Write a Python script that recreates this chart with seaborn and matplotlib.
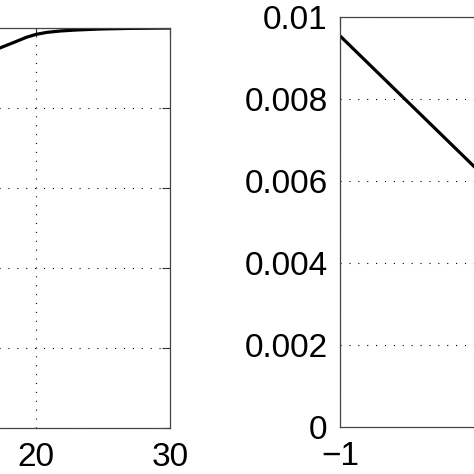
import matplotlib
matplotlib.use("Agg")
import matplotlib.pyplot as plt
import seaborn as sns
import pandas as pd

# Left panel data (only right part visible)
left_x = [16.0, 17.3, 18.5, 19.3, 20.0, 20.8, 21.8, 23.0, 24.8, 27.0, 30.0]
left_y = [0.925, 0.950, 0.966, 0.977, 0.984, 0.989, 0.9925, 0.995, 0.9975, 0.999, 1.0]
left_xticks = [0, 10, 20, 30]
left_xticklabels = ["0", "10", "20", "30"]
left_yticks = [0.0, 0.2, 0.4, 0.6, 0.8, 1.0]

# Right panel data (only left part visible)
right_x = [-1.0, -0.33, -0.2]
right_y = [0.00954, 0.00634, 0.00572]
right_xticks = [-1, 0, 1]
right_xticklabels = ["\u22121", "0", "1"]
right_yticks = [0, 0.002, 0.004, 0.006, 0.008, 0.01]
right_yticklabels = ["0", "0.002", "0.004", "0.006", "0.008", "0.01"]

sns.set_style("white")
plt.rcParams["font.family"] = ["Liberation Sans", "DejaVu Sans"]
plt.rcParams["text.color"] = "black"
plt.rcParams["xtick.labelcolor"] = "black"
plt.rcParams["ytick.labelcolor"] = "black"

fig = plt.figure(figsize=(4.74, 4.74), dpi=100)
W = 474.0
axL = fig.add_axes([-232 / W, 46 / W, 402 / W, 400 / W])
axR = fig.add_axes([340 / W, 47 / W, 402 / W, 410 / W])

dfL = pd.DataFrame({"x": left_x, "y": left_y})
dfR = pd.DataFrame({"x": right_x, "y": right_y})
sns.lineplot(data=dfL, x="x", y="y", ax=axL, color="black", lw=2.3)
sns.lineplot(data=dfR, x="x", y="y", ax=axR, color="black", lw=2.3)

for ax in (axL, axR):
    ax.set_xlabel("")
    ax.set_ylabel("")
    ax.grid(True, color="black", linestyle=(0, (1, 7)), linewidth=0.8)
    ax.tick_params(direction="in", length=6, width=0.8, color="#333333",
                   labelsize=24, labelcolor="black", top=True, right=True)
    ax.tick_params(axis="x", pad=10)
    ax.tick_params(axis="y", pad=9)
    for s in ax.spines.values():
        s.set_visible(True)
        s.set_color("#444444")
        s.set_linewidth(0.9)

axL.set_xlim(0, 30)
axL.set_ylim(0, 1)
axL.set_xticks(left_xticks)
axL.set_xticklabels(left_xticklabels)
axL.set_yticks(left_yticks)

axR.set_xlim(-1, 1)
axR.set_ylim(0, 0.01)
axR.set_xticks(right_xticks)
axR.set_xticklabels(right_xticklabels)
axR.set_yticks(right_yticks)
axR.set_yticklabels(right_yticklabels)

fig.savefig("out.png", dpi=100)
